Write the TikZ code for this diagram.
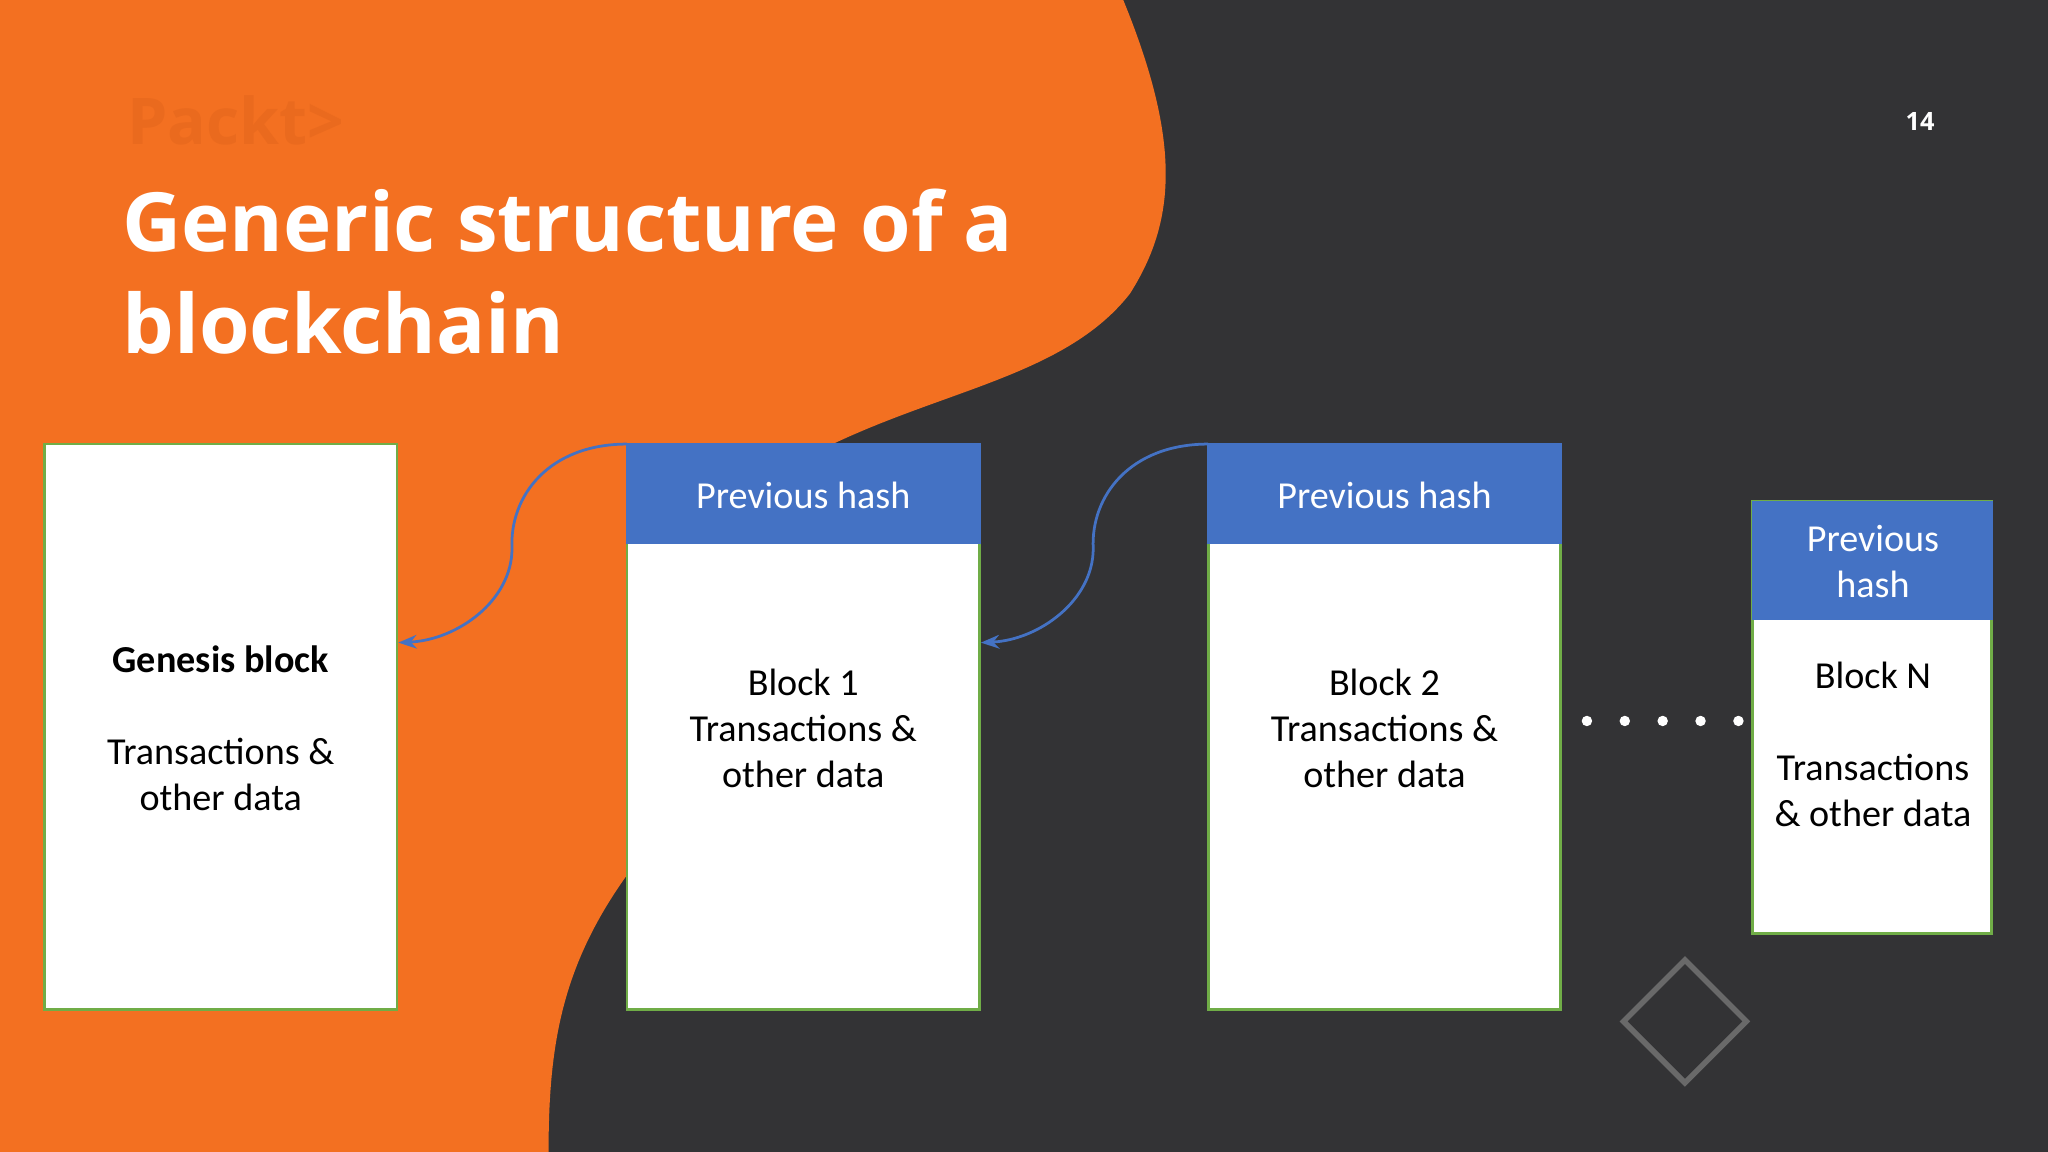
\documentclass[tikz,border=0pt]{standalone}
\usepackage{fontspec}
\usetikzlibrary{arrows.meta}
\setmainfont{Carlito}
\newfontfamily\titlefont{Open Sans}
\definecolor{bgdark}{HTML}{333335}
\definecolor{org}{HTML}{F37021}
\definecolor{orgd}{HTML}{EA6A1E}
\definecolor{hdr}{HTML}{4472C4}
\definecolor{bord}{HTML}{70AD47}
\begin{document}
\begin{tikzpicture}[x=0.01cm,y=-0.01cm,
  blk/.style={draw=bord,line width=0.6pt,fill=white},
  hd/.style={draw=hdr,fill=hdr},
  txt/.style={font=\fontsize{8.3pt}{10pt}\selectfont,align=center,text=black},
  htxt/.style={font=\fontsize{8.3pt}{10pt}\selectfont,align=center,text=white},
  lnk/.style={draw=hdr,line width=0.6pt,-{Stealth[length=4pt]}}]
\useasboundingbox (0,0) rectangle (1568,882);
\fill[bgdark] (0,0) rectangle (1568,882);
\fill[org] (0,0) -- (860,0) .. controls (905,110) and (900,170) .. (865,225)
  .. controls (810,295) and (700,300) .. (600,360)
  .. controls (520,420) and (500,560) .. (480,670)
  .. controls (430,740) and (420,800) .. (420,882) -- (0,882) -- cycle;
\node[anchor=west,text=orgd,font=\titlefont\bfseries\fontsize{14pt}{14pt}\selectfont,inner sep=0pt] (logo) at (97,92) {Packt>};
\node[anchor=north west,text=white,align=left,inner sep=0pt,font=\titlefont\bfseries\fontsize{17.8pt}{22.3pt}\selectfont] (title) at (93,144) {Generic structure of a\\blockchain};
\node[text=white,font=\titlefont\bfseries\fontsize{5.5pt}{6pt}\selectfont] (pg) at (1470,93) {14};
% genesis
\path[blk] (34,340) rectangle (304,773);
\node[txt] (g) at (169,505) {\textbf{Genesis block}};
\node[txt] (gt) at (169,593) {Transactions \&\\other data};
\coordinate (gr) at (305,492);
% block 1
\path[blk] (480,340) rectangle (750,773);
\path[hd] (480,340) rectangle (750,416);
\node[htxt] (h1) at (615,379) {Previous hash};
\node[txt] (b1) at (615,558) {Block 1\\Transactions \&\\other data};
\coordinate (c1) at (480,340);
\coordinate (r1) at (751,492);
% block 2
\path[blk] (925,340) rectangle (1195,773);
\path[hd] (925,340) rectangle (1195,416);
\node[htxt] (h2) at (1060,379) {Previous hash};
\node[txt] (b2) at (1060,558) {Block 2\\Transactions \&\\other data};
\coordinate (c2) at (925,340);
% block N
\path[blk] (1342,384) rectangle (1525,715);
\path[hd] (1342,384) rectangle (1525,474);
\node[htxt] (hn) at (1434,430) {Previous\\hash};
\node[txt] (bn) at (1434,517) {Block N};
\node[txt] (bnt) at (1434,605) {Transactions\\\& other data};
% links
\draw[lnk] (c1) .. controls (420,340) and (390,380) .. (392,420) .. controls (392,460) and (350,490) .. (gr);
\draw[lnk] (c2) .. controls (865,340) and (835,380) .. (837,420) .. controls (837,460) and (795,490) .. (r1);
% dots
\foreach \x in {1215,1244,1273,1302,1331} \fill[white] (\x,552) circle (4);
% diamond
\draw[gray!70!bgdark,line width=1.2pt] (1290,735) -- (1337,782) -- (1290,829) -- (1243,782) -- cycle;
\end{tikzpicture}
\end{document}
